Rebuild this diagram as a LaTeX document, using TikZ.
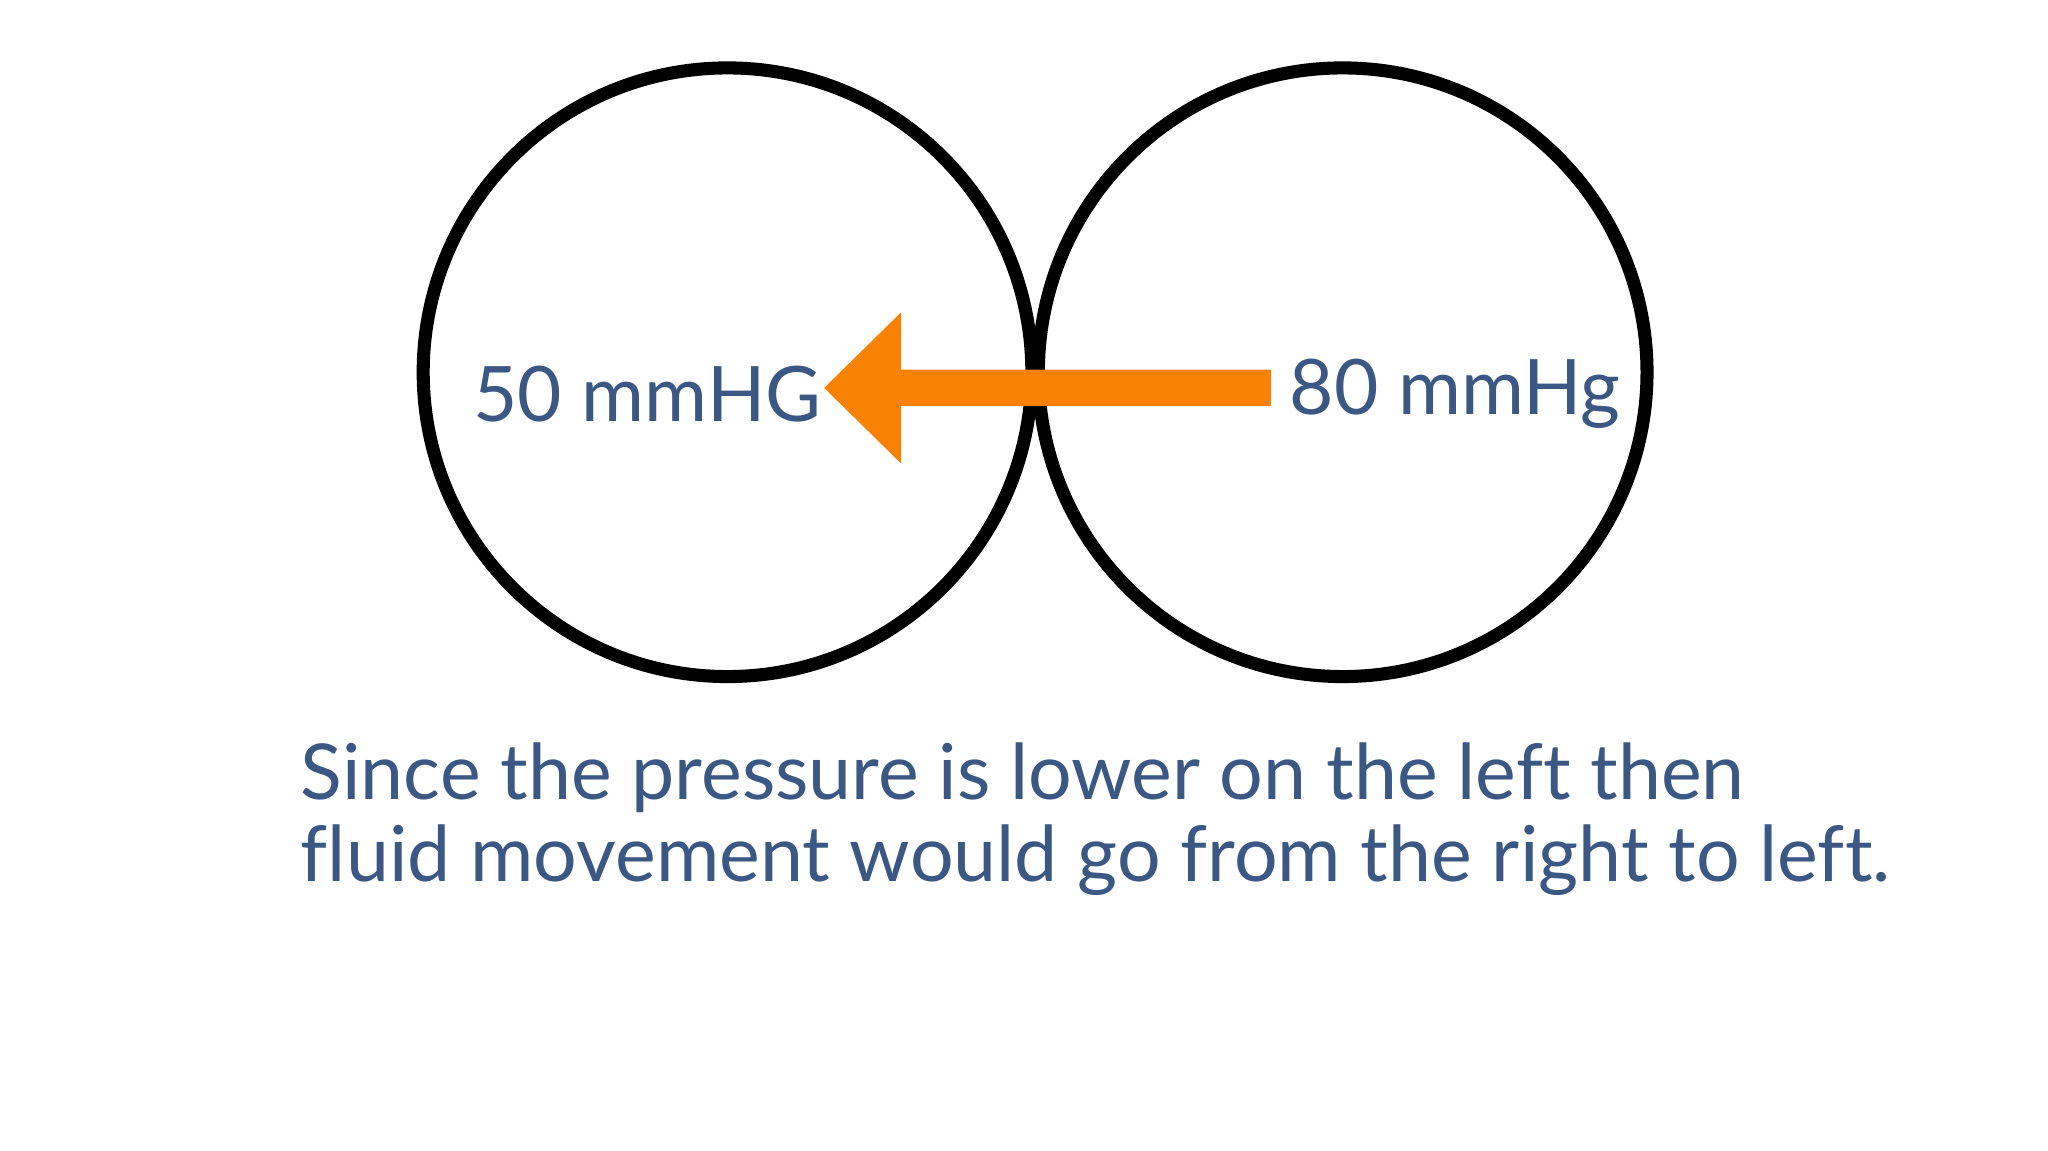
\documentclass[tikz,border=0pt]{standalone}
\usepackage{fontspec}
\setmainfont{Lato}[Ligatures={NoCommon}]
\definecolor{txtblue}{HTML}{3B5783}
\definecolor{arrorange}{HTML}{F98205}
\begin{document}
\begin{tikzpicture}[x=0.5pt,y=-0.5pt,
  vessel/.style={circle,draw=black,line width=5pt,minimum size=466*0.5pt,inner sep=0pt},
  label/.style={text=txtblue,font=\fontsize{29.3}{36}\selectfont,inner sep=0pt,anchor=base west},
  caption/.style={text=txtblue,font=\fontsize{29.5}{36}\selectfont,inner sep=0pt,anchor=base west},
  flow/.style={fill=arrorange,draw=none}]
\useasboundingbox[fill=white] (0,0) rectangle (1568,881);
\node[vessel] (left) at (557,285) {};
\node[vessel] (right) at (1028,285) {};
\node[label] (lp) at (362,323) {50 mmHG};
\node[label] (rp) at (987,317) {80 mmHg};
\coordinate (tail) at (973,297);
\coordinate (tip) at (631,297);
\fill[flow] (tail) ++(0,-14) -- (690,283) -- (690,239) -- (tip) -- (690,355) -- (690,311) -- ++(283,0) -- cycle;
\node[caption] (l1) at (230,612) {Since the pressure is lower on the left then};
\node[caption] (l2) at (230,675) {fluid movement would go from the right to left.};
\end{tikzpicture}
\end{document}
